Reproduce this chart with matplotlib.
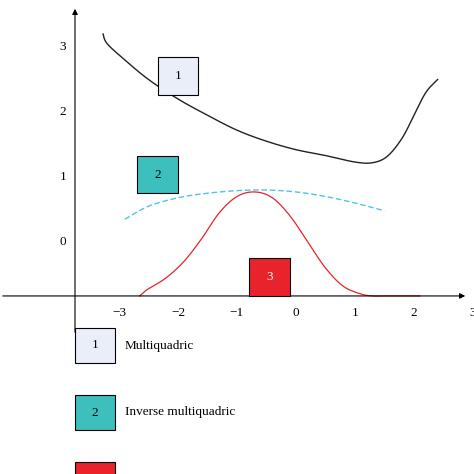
import matplotlib
matplotlib.use("Agg")
import matplotlib.pyplot as plt
from matplotlib.patches import Rectangle
import numpy as np

plt.rcParams['font.family'] = ['Liberation Serif', 'DejaVu Serif']

x_ticks = [-3, -2, -1, 0, 1, 2, 3]
x_tick_labels = ["−3", "−2", "−1", "0", "1", "2", "3"]
y_ticks = [0, 1, 2, 3]
y_tick_labels = ["0", "1", "2", "3"]

mq_x = [-3.27, -3.2, -2.9, -2.5, -2.0, -1.5, -1.0, -0.5, 0.0, 0.5, 1.0, 1.3, 1.55, 1.8, 2.0, 2.2, 2.4]
mq_y = [3.2, 3.05, 2.8, 2.5, 2.2, 1.95, 1.72, 1.55, 1.42, 1.33, 1.23, 1.22, 1.32, 1.6, 1.95, 2.3, 2.5]
imq_x = [-2.9, -2.5, -2.0, -1.5, -1.0, -0.5, 0.0, 0.5, 1.0, 1.5]
imq_y = [0.35, 0.55, 0.68, 0.75, 0.79, 0.8, 0.77, 0.7, 0.6, 0.48]
g_x = [-2.65, -2.55, -2.5, -2.2, -1.9, -1.6, -1.3, -1.0, -0.7, -0.4, -0.1, 0.2, 0.5, 0.8, 1.1, 1.3, 1.5, 2.1]
g_y = [-0.83, -0.75, -0.72, -0.55, -0.3, 0.05, 0.45, 0.7, 0.77, 0.68, 0.4, 0.0, -0.4, -0.68, -0.8, -0.83, -0.83, -0.83]
legend_labels = ["Multiquadric", "Inverse multiquadric", "Gaussian"]
box_colors = ["#e9eef8", "#3dbfbe", "#e8232b"]

def smooth(xs, ys, n=12):
    p = np.column_stack([xs, ys]).astype(float)
    p = np.vstack([p[0], p, p[-1]])
    out = []
    for i in range(1, len(p) - 2):
        p0, p1, p2, p3 = p[i - 1], p[i], p[i + 1], p[i + 2]
        for t in np.linspace(0, 1, n, endpoint=False):
            out.append(0.5 * ((2 * p1) + (-p0 + p2) * t + (2 * p0 - 5 * p1 + 4 * p2 - p3) * t**2
                              + (-p0 + 3 * p1 - 3 * p2 + p3) * t**3))
    out.append(p[-2])
    out = np.array(out)
    return out[:, 0], out[:, 1]

fig = plt.figure(figsize=(4.74, 4.74), dpi=100)
ax = fig.add_axes([0, 0, 1, 1])
def X(px): return (px - 296) / 59
def Y(py): return (242 - py) / 65
ax.set_xlim(X(0), X(474)); ax.set_ylim(Y(474), Y(0))
ax.axis('off')

base = -0.83
ax.annotate("", xy=(X(468), base), xytext=(X(0), base),
            arrowprops=dict(arrowstyle="-|>", color="black", lw=0.8, mutation_scale=8))
ax.annotate("", xy=(X(75), Y(6)), xytext=(X(75), Y(335)),
            arrowprops=dict(arrowstyle="-|>", color="black", lw=0.8, mutation_scale=8))
for t, l in zip(x_ticks, x_tick_labels):
    ax.text(t, Y(313), l, ha='center', va='center', fontsize=9.5)
for t, l in zip(y_ticks, y_tick_labels):
    ax.text(X(63), t, l, ha='center', va='center', fontsize=9.5)

ax.plot(*smooth(mq_x, mq_y), color='#222222', lw=1.0)
ax.plot(*smooth(imq_x, imq_y), color='#4fc3e8', lw=1.0, ls=(0, (4, 2)))
ax.plot(*smooth(g_x, g_y), color='#e8232b', lw=0.9)

def box(px0, py0, px1, py1, c, label):
    ax.add_patch(Rectangle((X(px0), Y(py1)), X(px1) - X(px0), Y(py0) - Y(py1),
                           facecolor=c, edgecolor='black', lw=0.8, zorder=3))
    ax.text((X(px0) + X(px1)) / 2, (Y(py0) + Y(py1)) / 2, label, ha='center', va='center',
            fontsize=9.5, zorder=4, color='white' if c == box_colors[2] else 'black')

box(158, 57, 198, 95, box_colors[0], "1")
box(137, 156, 178, 193, box_colors[1], "2")
box(249, 258, 290, 296, box_colors[2], "3")

for i, (lab, c) in enumerate(zip(legend_labels, box_colors)):
    py0 = 328 + i * 67
    box(75, py0, 115, py0 + 35, c, str(i + 1))
    ax.text(X(125), (Y(py0) + Y(py0 + 35)) / 2, lab, ha='left', va='center', fontsize=9.5)

fig.savefig("out.png", dpi=100)
